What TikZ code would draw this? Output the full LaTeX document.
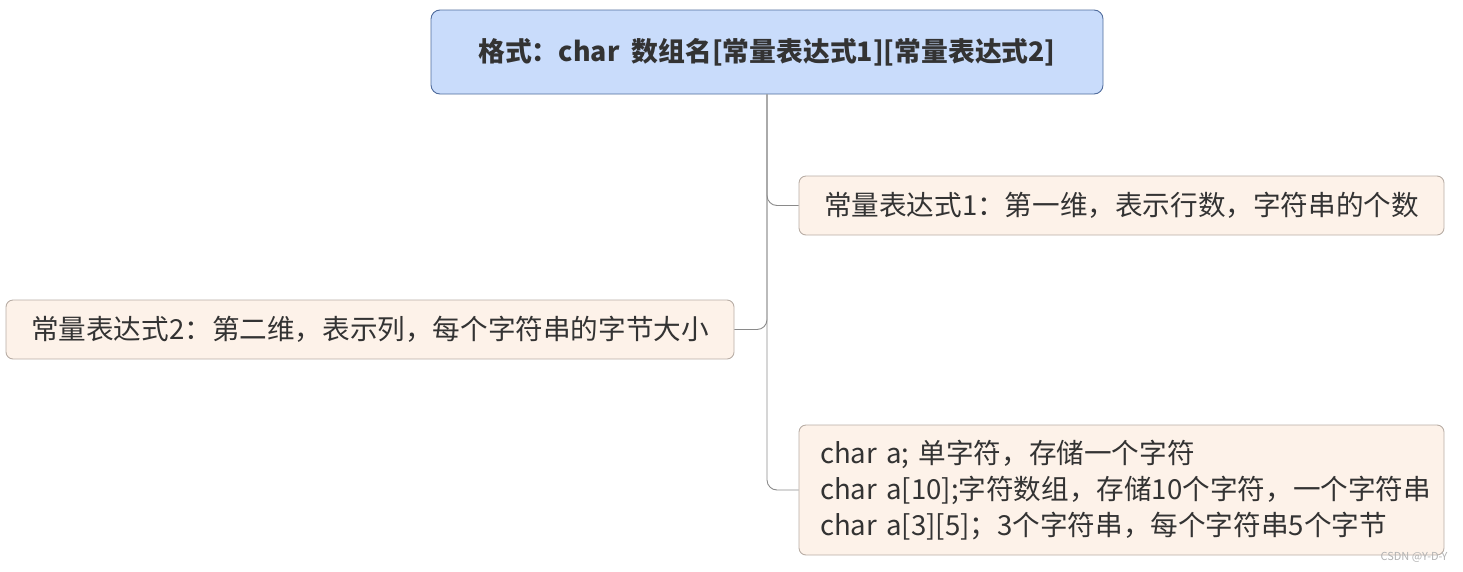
\documentclass[tikz,border=0pt]{standalone}
\usepackage{fontspec}
\setmainfont{Noto Sans CJK SC}
\definecolor{topfill}{HTML}{C9DCFB}
\definecolor{topdraw}{HTML}{4F6B9C}
\definecolor{subfill}{HTML}{FDF2E9}
\definecolor{subdraw}{HTML}{B8ADA5}
\definecolor{txt}{HTML}{333333}
\definecolor{conncol}{HTML}{8A8A8A}
\begin{document}
\begin{tikzpicture}[x=1pt,y=-1pt,
  topbox/.style={draw=topdraw,fill=topfill,rounded corners=9pt,line width=0.9pt,
    minimum width=672pt,minimum height=84pt,inner sep=0pt,text=txt,
    font=\fontsize{26.8}{30}\selectfont\bfseries},
  subbox/.style={draw=subdraw,fill=subfill,rounded corners=7pt,line width=0.9pt,
    minimum height=59pt,inner sep=0pt,text=txt,
    font=\fontsize{27.6}{36}\selectfont},
  conn/.style={draw=conncol,line width=0.9pt,rounded corners=10pt}]
\useasboundingbox (0,0) rectangle (1463,571);
\node[topbox] (top) at (767,52) {格式：char\ \ 数组名[常量表达式1][常量表达式2]};
\node[subbox,minimum width=645pt] (n1) at (1121.5,205.5) {常量表达式1：第一维，表示行数，字符串的个数};
\node[subbox,minimum width=728pt] (n2) at (370,329.5) {常量表达式2：第二维，表示列，每个字符串的字节大小};
\node[subbox,minimum height=130pt,text width=603pt,inner xsep=21pt,align=left] (n3) at (1121.5,490)
  {char a; 单字符，存储一个字符\\char a[10];字符数组，存储10个字符，一个字符串\\char a[3][5]；3个字符串，每个字符串5个字节};
\draw[conn] (top.south) |- (n1.west);
\draw[conn] (top.south) |- (n2.east);
\draw[conn] (top.south) |- (n3.west);
\node[text=black!30,font=\fontsize{11}{12}\selectfont,inner sep=0pt] (wm) at (1414,557) {CSDN @Y-D-Y};
\end{tikzpicture}
\end{document}
